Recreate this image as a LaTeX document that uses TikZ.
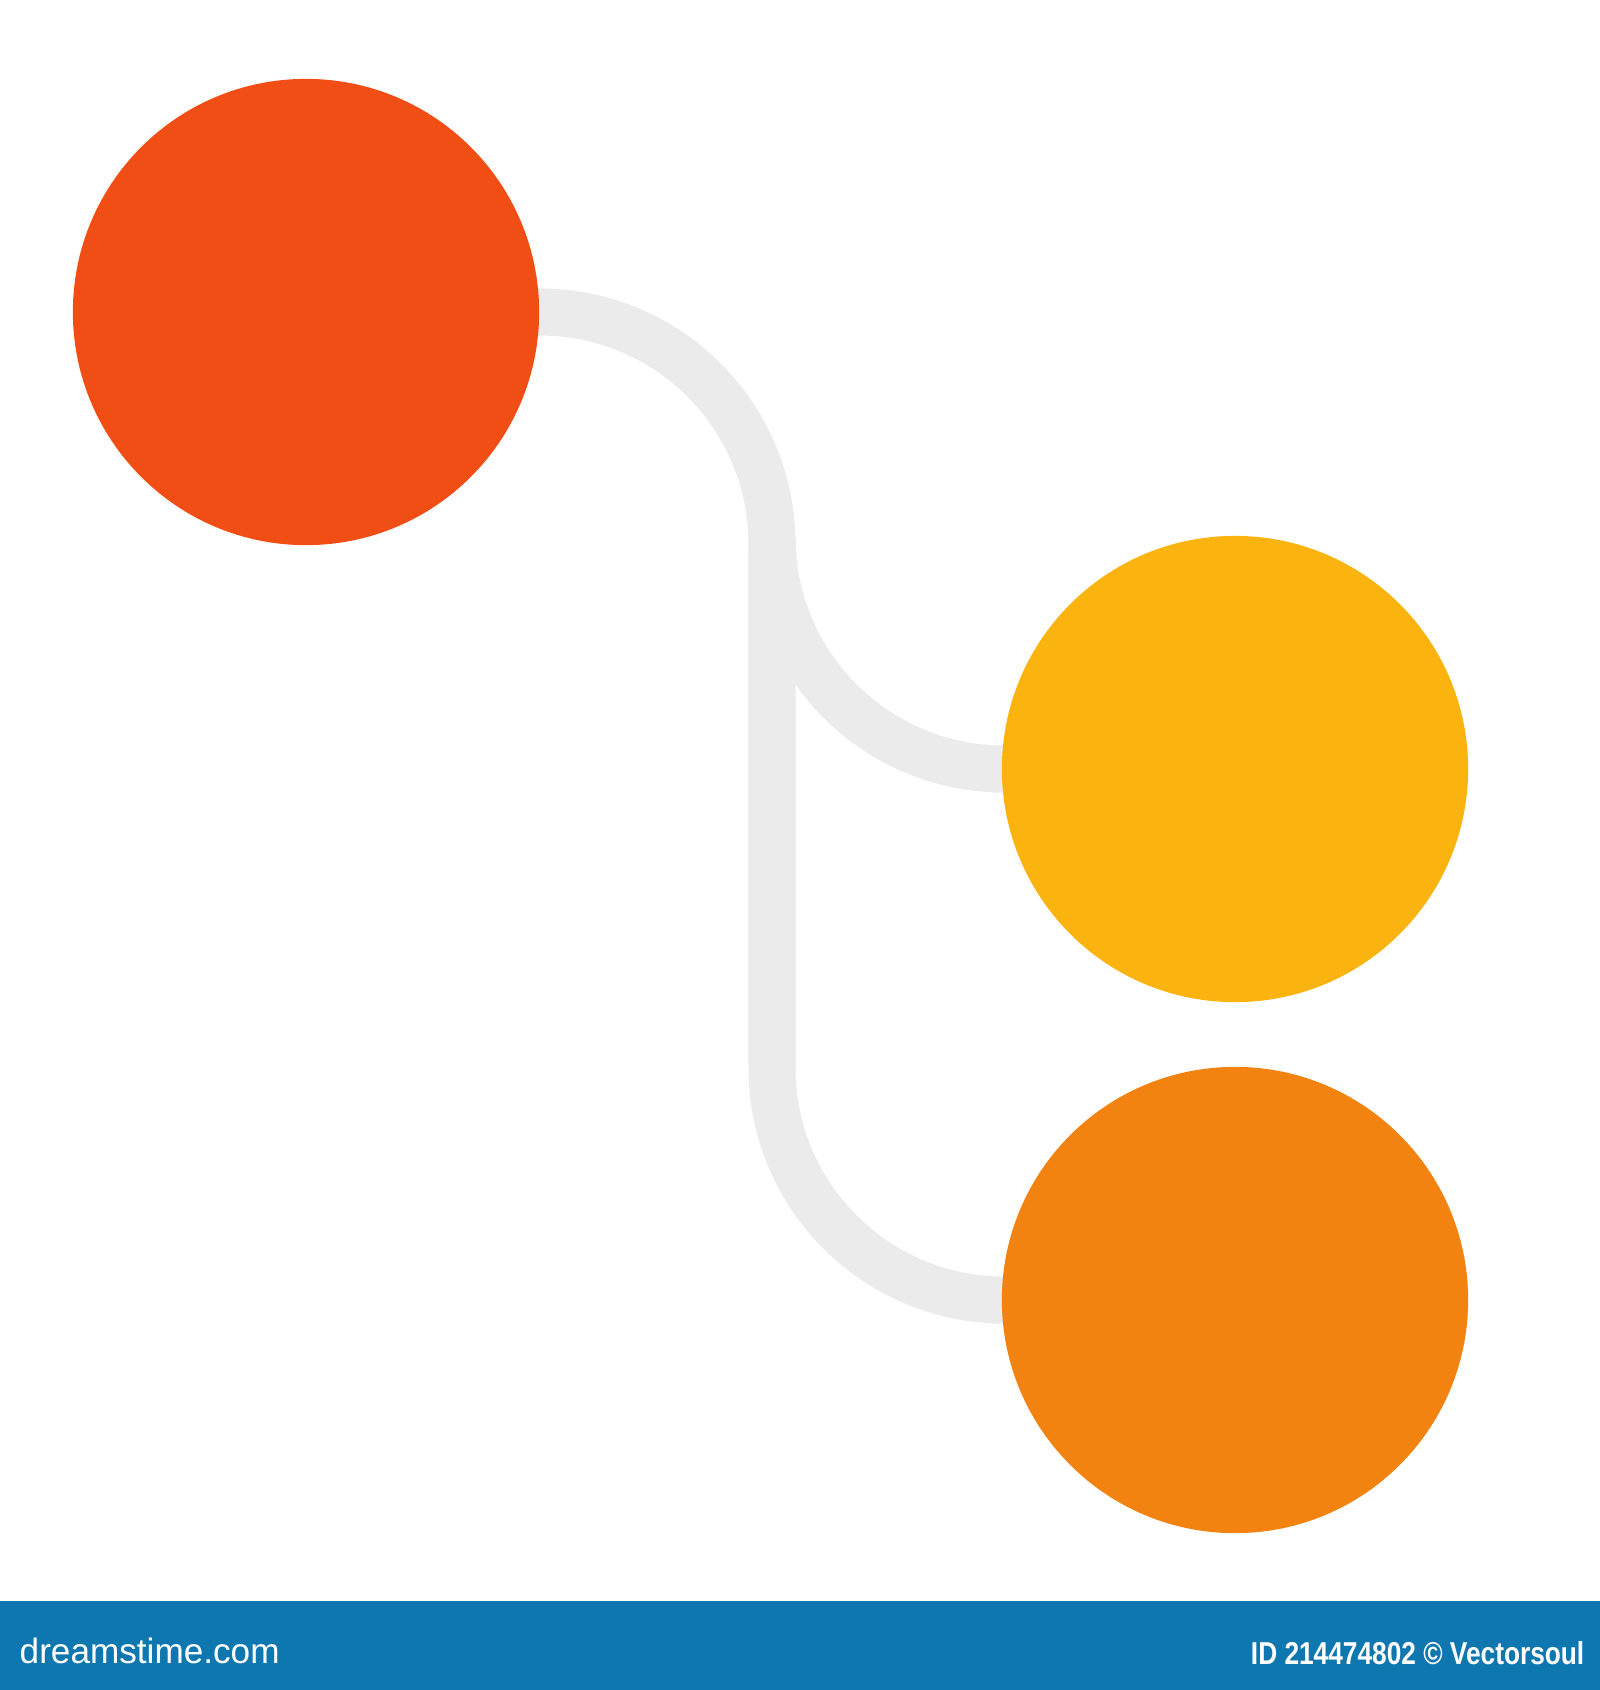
\documentclass[tikz,border=0pt]{standalone}
\usepackage{fontspec}
\usepackage{tikz}
\usetikzlibrary{backgrounds}
\newfontfamily\barfont{Liberation Sans}[FakeStretch=0.83]
\newfontfamily\logofont{Liberation Sans}

\definecolor{dotred}{HTML}{F04E14}
\definecolor{dotyellow}{HTML}{FBB40F}
\definecolor{dotorange}{HTML}{F38311}
\definecolor{linkgray}{HTML}{EBEBEB}
\definecolor{barblue}{HTML}{0F77B0}

\begin{document}
\begin{tikzpicture}[x=0.01cm, y=-0.01cm,
  dot/.style={circle, draw=none, inner sep=0pt, minimum size=4.66cm},
  link/.style={draw=linkgray, line width=0.47cm, rounded corners=2.32cm, shorten <=-0.08cm, shorten >=-0.08cm}]

\useasboundingbox (0,0) rectangle (1600,1690);

\foreach \name/\x/\y/\col in {root/306/312/dotred, leafa/1235/769/dotyellow, leafb/1235/1300/dotorange}
  \node[dot, fill=\col] (\name) at (\x,\y) {};

\coordinate (trunk) at (772,0);
\coordinate (fork) at (772,537);

\begin{scope}[on background layer]
\draw[link] (root.east) -- (root.east -| trunk) -- (leafb.west -| trunk) -- (leafb.west);
\draw[link, shorten <=0pt] (fork) -- (leafa.west -| trunk) -- (leafa.west);
\end{scope}

% footer bar
\fill[barblue] (0,1601) rectangle (1600,1690);
\node[anchor=west, text=white, inner sep=0pt, font=\logofont\fontsize{10}{12}\selectfont] (site) at (19,1651) {dreamstime.com};
\node[anchor=east, text=white, inner sep=0pt, font=\barfont\bfseries\fontsize{9}{11}\selectfont] (credit) at (1585,1653) {ID 214474802 © Vectorsoul};

\end{tikzpicture}
\end{document}
